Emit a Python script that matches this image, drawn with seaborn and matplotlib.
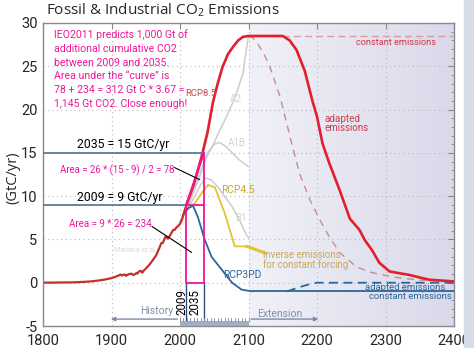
import numpy as np
import pandas as pd
import matplotlib
matplotlib.use("Agg")
import matplotlib.pyplot as plt
from matplotlib import font_manager as fm
import seaborn as sns

sns.set_theme(style="white")

def pick(names):
    for n in names:
        try:
            fm.findfont(fm.FontProperties(family=n), fallback_to_default=False)
            return n
        except Exception:
            pass
    return "DejaVu Sans"

NARROW = pick(["Liberation Sans Narrow", "Roboto", "Liberation Sans"])
MAIN = pick(["Open Sans", "Liberation Sans", "DejaVu Sans"])
plt.rcParams['font.family'] = [NARROW, 'DejaVu Sans']
plt.rcParams['mathtext.fontset'] = 'custom'
plt.rcParams['mathtext.rm'] = MAIN

# ---------------- data ----------------
hist_years = [1800, 1810, 1820, 1830, 1840, 1850, 1860, 1870, 1880, 1890, 1900, 1905,
              1910, 1913, 1915, 1918, 1920, 1921, 1925, 1929, 1932, 1935, 1937, 1938,
              1940, 1943, 1945, 1947, 1950, 1955, 1960, 1965, 1970, 1973, 1975, 1979,
              1982, 1985, 1990, 1992, 1995, 1998, 2000, 2003, 2005, 2007, 2009]
hist_vals = [0.01, 0.01, 0.02, 0.03, 0.04, 0.06, 0.10, 0.15, 0.24, 0.36, 0.53, 0.66,
             0.82, 0.94, 0.84, 0.94, 0.93, 0.80, 0.98, 1.05, 0.88, 1.03, 1.14, 1.06,
             1.30, 1.37, 1.16, 1.40, 1.63, 2.04, 2.58, 3.14, 4.05, 4.60, 4.60, 5.35,
             5.10, 5.40, 6.10, 6.10, 6.40, 6.60, 6.80, 7.30, 7.90, 8.40, 8.90]

red_years = [2009, 2020, 2031, 2040, 2048, 2055, 2062, 2070, 2077, 2085, 2092, 2100,
             2150, 2160, 2170, 2182, 2193, 2200, 2208, 2218, 2233, 2248, 2262, 2270,
             2280, 2291, 2306, 2320, 2335, 2350, 2364, 2400]
red_vals = [8.9, 11.3, 14.4, 17.3, 20.8, 23.0, 24.9, 26.4, 27.2, 28.0, 28.4, 28.5,
            28.5, 28.0, 26.9, 24.5, 21.1, 19.2, 16.1, 13.8, 10.7, 7.4, 6.1, 4.9,
            3.8, 2.3, 1.3, 1.1, 0.9, 0.6, 0.35, 0.15]

red_dash_years = [2100, 2106, 2112, 2122, 2131, 2146, 2163, 2175, 2190, 2204, 2218,
                  2233, 2258, 2281, 2316, 2350, 2400]
red_dash_vals = [28.5, 28.3, 27.8, 26.5, 25.0, 21.5, 16.1, 12.5, 9.5, 7.3, 5.3,
                 3.5, 1.8, 1.15, 0.6, 0.3, 0.15]

const_years = [2100, 2400]
const_vals = [28.5, 28.5]

a2_years = [2000, 2010, 2020, 2030, 2039, 2050, 2058, 2068, 2077, 2085, 2092, 2096, 2100]
a2_vals = [7.0, 8.6, 10.5, 12.5, 14.5, 16.2, 17.6, 19.2, 20.8, 22.5, 24.2, 26.5, 28.5]

a1b_years = [2000, 2010, 2020, 2030, 2040, 2050, 2058, 2066, 2075, 2085, 2093, 2100]
a1b_vals = [7.0, 8.5, 10.6, 12.9, 15.0, 16.0, 16.2, 15.8, 15.1, 14.3, 13.8, 13.4]

b1_years = [2000, 2010, 2020, 2030, 2037, 2045, 2055, 2065, 2076, 2087, 2097, 2100]
b1_vals = [7.0, 8.3, 9.8, 11.3, 12.1, 11.9, 11.1, 10.0, 8.8, 7.2, 5.5, 5.2]

rcp45_years = [2005, 2011, 2022, 2032, 2041, 2051, 2065, 2080, 2097]
rcp45_vals = [7.9, 8.6, 9.2, 10.4, 11.3, 11.0, 8.1, 4.2, 4.2]
inv_years = [2097, 2105, 2115, 2125]
inv_vals = [4.2, 4.0, 3.7, 3.4]

rcp3_years = [2005, 2012, 2019, 2026, 2036, 2046, 2061, 2076, 2090, 2105]
rcp3_vals = [7.9, 8.6, 8.9, 7.6, 5.0, 3.0, 1.5, 0.0, -0.8, -1.0]
rcp3_const_years = [2105, 2400]
rcp3_const_vals = [-1.0, -1.0]
rcp3_adapt_years = [2156, 2175, 2190, 2200, 2400]
rcp3_adapt_vals = [-1.0, -0.5, -0.15, 0.0, 0.0]

x_ticks = [1800, 1900, 2000, 2100, 2200, 2300, 2400]
y_ticks = [-5, 0, 5, 10, 15, 20, 25, 30]

# ---------------- figure ----------------
fig = plt.figure(figsize=(4.74, 3.48), dpi=100)
fig.patches.append(plt.Rectangle((464/474, 0), 10/474, 1, transform=fig.transFigure,
                                 color="#d6dcea", zorder=0))
ax = fig.add_axes([43/474, 22/348, 411/474, 303/348])
ax.set_xlim(1800, 2400)
ax.set_ylim(-5, 30)

# gradient background for extension period
grad = np.linspace(0, 1, 256).reshape(1, -1)
cmap = matplotlib.colors.LinearSegmentedColormap.from_list("g", ["#f1f1f8", "#d9d9ea"])
ax.imshow(grad, extent=[2100, 2400, -5, 30], aspect="auto", cmap=cmap, zorder=0)

# grid
for x in [1900, 2000, 2100, 2200, 2300]:
    ax.axvline(x, color="#b8b8c0", lw=0.8, ls=(0, (1, 3)), zorder=0.5)
for y in [0, 5, 10, 15, 20, 25]:
    ax.axhline(y, color="#b8b8c0", lw=0.8, ls=(0, (1, 3)), zorder=0.5)

def line(xs, ys, **kw):
    df = pd.DataFrame({"year": xs, "val": ys})
    sns.lineplot(data=df, x="year", y="val", ax=ax, estimator=None, sort=False, **kw)

GREY = "#cdcdcd"
line(a2_years, a2_vals, color=GREY, linewidth=1.1)
line(a1b_years, a1b_vals, color=GREY, linewidth=1.1)
line(b1_years, b1_vals, color=GREY, linewidth=1.1)
line(const_years, const_vals, color="#d89aa6", linewidth=1.0, linestyle=(0, (5, 3)))
line(red_dash_years, red_dash_vals, color="#c98a96", linewidth=1.0, linestyle=(0, (5, 4)))
line(rcp45_years, rcp45_vals, color="#e6c233", linewidth=1.3)
line(inv_years, inv_vals, color="#e6c233", linewidth=2.2)
line(rcp3_years, rcp3_vals, color="#2a679c", linewidth=1.3)
line(rcp3_const_years, rcp3_const_vals, color="#2a679c", linewidth=1.3)
line(rcp3_adapt_years, rcp3_adapt_vals, color="#2a679c", linewidth=1.3, linestyle=(0, (5, 3)))
line(hist_years, hist_vals, color="#c2302e", linewidth=1.6)
line(red_years, red_vals, color="#e21f2c", linewidth=1.9)

# horizontal reference lines
ax.plot([1800, 2035], [15, 15], color="#5a7b9c", lw=1.3, zorder=3)
ax.plot([1800, 2009], [9, 9], color="#5a7b9c", lw=1.3, zorder=3)
# navy verticals under zero
ax.plot([2009, 2009], [-5, 0], color="#2b4d7e", lw=1.0, zorder=3)
ax.plot([2035, 2035], [-5, 0], color="#2b4d7e", lw=1.0, zorder=3)
# magenta shapes
MAG = "#f0169a"
ax.plot([2009, 2009, 2035, 2035], [9, 0, 0, 15], color=MAG, lw=1.3, zorder=4)
ax.plot([2009, 2035], [9, 9], color=MAG, lw=1.3, zorder=4)
ax.plot([2009, 2035], [9, 15], color=MAG, lw=1.5, zorder=4)

# leader lines
ax.plot([1992, 2029], [13.3, 11.9], color="black", lw=0.8, zorder=5)
ax.plot([1959, 2017], [6.5, 3.5], color="black", lw=0.8, zorder=5)

# ruler strip at bottom
ax.add_patch(plt.Rectangle((2000, -5), 100, 0.55, color="#9fb0c2", zorder=3, lw=0))
for yr in range(2000, 2101, 5):
    ax.plot([yr, yr], [-4.45, -4.1], color="#8797ab", lw=0.7, zorder=3)

# arrows
ax.annotate("", xy=(1895, -4.2), xytext=(2000, -4.2),
            arrowprops=dict(arrowstyle="-|>", color="#7d8aa6", lw=1.0, mutation_scale=6))
ax.annotate("", xy=(2206, -4.2), xytext=(2100, -4.2),
            arrowprops=dict(arrowstyle="-|>", color="#7d8aa6", lw=1.0, mutation_scale=6))
ax.text(1990, -3.3, "History", ha="right", va="center", fontsize=7.5, color="#8190ab")
ax.text(2112, -3.6, "Extension", ha="left", va="center", fontsize=7.5, color="#8190ab")

# texts
ax.text(1816, 29.3,
        "IEO2011 predicts 1,000 Gt of\nadditional cumulative CO2\nbetween 2009 and 2035.\n"
        "Area under the \u201ccurve\u201d is\n78 + 234 = 312 Gt C * 3.67 =\n1,145 Gt CO2. Close enough!",
        ha="left", va="top", fontsize=7.6, color=MAG, linespacing=1.48)
ax.text(1917, 16.0, "2035 = 15 GtC/yr", ha="center", va="center", fontsize=8.8, color="black")
ax.text(1912, 9.8, "2009 = 9 GtC/yr", ha="center", va="center", fontsize=8.8, color="black")
ax.text(1908, 13.0, "Area = 26 * (15 - 9) / 2 = 78", ha="center", va="center",
        fontsize=6.9, color=MAG)
ax.text(1898, 6.8, "Area = 9 * 26 = 234", ha="center", va="center", fontsize=7.0, color=MAG)
ax.text(2003.5, -2.2, "2009", rotation=90, ha="center", va="center", fontsize=8.3, color="black")
ax.text(2022.5, -2.2, "2035", rotation=90, ha="center", va="center", fontsize=8.3, color="black")
ax.text(1935, 3.7, "Marland et al.", ha="center", va="center", fontsize=5, color="#d8d8d8")

ax.text(2030, 21.9, "RCP8.5", ha="center", va="center", fontsize=6.8, color="#c8474a")
ax.text(2082, 21.2, "A2", ha="center", va="center", fontsize=7, color="#d2d2d2")
ax.text(2083, 16.1, "A1B", ha="center", va="center", fontsize=7, color="#d2d2d2")
ax.text(2089, 7.5, "B1", ha="center", va="center", fontsize=7, color="#d2d2d2")
ax.text(2084, 10.7, "RCP4.5", ha="center", va="center", fontsize=7.4, color="#caa52a")
ax.text(2091, 0.9, "RCP3PD", ha="center", va="center", fontsize=7.4, color="#2a679c")
ax.text(2121, 2.6, "inverse emissions\nfor constant forcing", ha="left", va="center",
        fontsize=7, color="#c9a85c", linespacing=0.95)
ax.text(2315, 27.8, "constant emissions", ha="center", va="center", fontsize=6.6, color="#d0394a")
ax.text(2211, 18.4, "adapted\nemissions", ha="left", va="center", fontsize=7,
        color="#d0394a", linespacing=0.95)
ax.text(2387, -0.5, "adapted emissions", ha="right", va="center", fontsize=6.8, color="#2a679c")
ax.text(2396, -1.6, "constant emissions", ha="right", va="center", fontsize=6.8, color="#2a679c")

# axes styling
ax.set_xticks(x_ticks)
ax.set_yticks(y_ticks)
ax.set_xticklabels([str(v) for v in x_ticks], fontsize=10.5)
ax.set_yticklabels([str(v) for v in y_ticks], fontsize=10.5)
ax.set_yticks(np.arange(-5, 31, 1), minor=True)
ax.tick_params(which="both", direction="in", top=True, right=True, color="#888888")
ax.tick_params(axis="x", which="major", pad=6)
ax.tick_params(axis="y", which="major", pad=4)
ax.tick_params(which="major", length=4, width=0.8)
ax.tick_params(which="minor", length=2, width=0.6)
ax.set_xlabel("")
ax.set_ylabel("")
for s in ax.spines.values():
    s.set_color("#8a8a8a")
    s.set_linewidth(1.0)

fig.text(46/474, 1 - 10/348, "Fossil & Industrial CO$_2$ Emissions", ha="left", va="center",
         fontsize=11, family=[MAIN, "DejaVu Sans"])
fig.text(13/474, 1 - 178/348, "(GtC/yr)", rotation=90, ha="center", va="center",
         fontsize=10.5, family=[MAIN, "DejaVu Sans"])

fig.savefig("out.png", dpi=100)
